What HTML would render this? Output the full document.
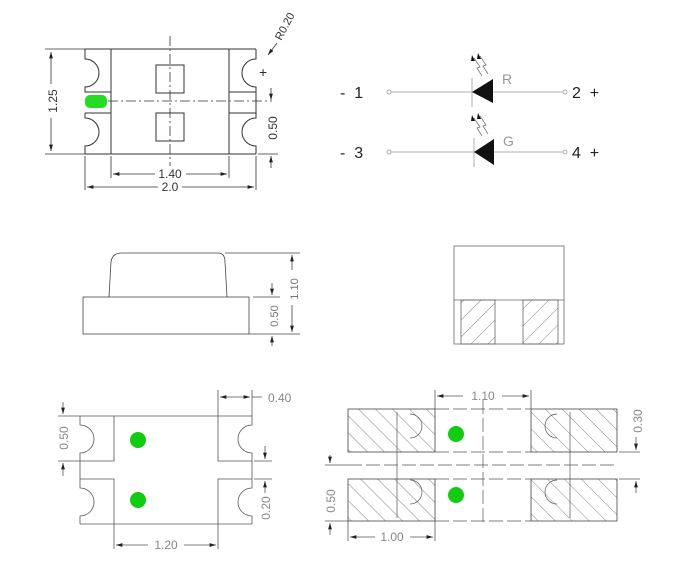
<!DOCTYPE html>
<html><head><meta charset="utf-8"><style>
html,body{margin:0;padding:0;background:#fff;}
svg{display:block;}
text{font-family:"Liberation Sans",sans-serif;}
</style></head><body>
<svg width="688" height="576" viewBox="0 0 688 576" xmlns="http://www.w3.org/2000/svg">
<defs>
<pattern id="h1" patternUnits="userSpaceOnUse" width="12" height="12" patternTransform="rotate(45)">
<line x1="0" y1="0" x2="0" y2="12" stroke="#666" stroke-width="0.8"/></pattern>
<pattern id="h2" patternUnits="userSpaceOnUse" width="12" height="12" patternTransform="rotate(-45)">
<line x1="0" y1="0" x2="0" y2="12" stroke="#666" stroke-width="0.8"/></pattern>
<marker id="a" viewBox="0 0 10 6" refX="10" refY="3" markerWidth="8" markerHeight="5" orient="auto-start-reverse"><path d="M0,0L10,3L0,6z" fill="#222"/></marker>
</defs>

<!-- TOP LEFT -->
<g fill="none" stroke="#333" stroke-width="1">
<line x1="85" y1="49" x2="256" y2="49"/><line x1="85" y1="154" x2="256" y2="154"/>
<line x1="111" y1="49" x2="111" y2="154"/><line x1="229" y1="49" x2="229" y2="154"/>
<path d="M85,49 V59 A14,14 0 0 1 85,87 V92 H111 M85,113 H111 M85,113 V118 A14,14 0 0 1 85,146 V154"/>
<path d="M256,49 V59 A14,14 0 0 0 256,87 V92 H229 M229,113 H256 V118 A14,14 0 0 0 256,146 V154"/>
<line x1="256" y1="92" x2="256" y2="113"/>
<rect x="156" y="65" width="28" height="28"/><rect x="156" y="113" width="28" height="28"/>
</g>
<g stroke="#333" stroke-width="0.8" stroke-dasharray="10,3,2,3" fill="none">
<line x1="170" y1="36" x2="170" y2="166"/><line x1="90" y1="101" x2="272" y2="101"/>
</g>
<rect x="85" y="95" width="22" height="13" rx="5" fill="#22dd22"/>
<g stroke="#333" stroke-width="0.8" fill="none">
<line x1="45" y1="49" x2="85" y2="49"/><line x1="45" y1="154" x2="85" y2="154"/>
<line x1="51" y1="52" x2="51" y2="84" marker-start="url(#a)"/><line x1="51" y1="118" x2="51" y2="151" marker-end="url(#a)"/>
<line x1="111" y1="156" x2="111" y2="178"/><line x1="229" y1="156" x2="229" y2="178"/>
<line x1="113" y1="174" x2="155" y2="174" marker-start="url(#a)"/><line x1="186" y1="174" x2="227" y2="174" marker-end="url(#a)"/>
<line x1="85" y1="156" x2="85" y2="190"/><line x1="256" y1="156" x2="256" y2="190"/>
<line x1="87" y1="187" x2="158" y2="187" marker-start="url(#a)"/><line x1="182" y1="187" x2="254" y2="187" marker-end="url(#a)"/>
<line x1="258" y1="154" x2="278" y2="154"/>
<line x1="271" y1="88" x2="271" y2="100" marker-end="url(#a)"/><line x1="271" y1="168" x2="271" y2="156" marker-end="url(#a)"/>
<line x1="277" y1="43" x2="268" y2="55" marker-end="url(#a)"/>
</g>
<g fill="#333" font-size="12">
<text x="57" y="101" transform="rotate(-90 57 101)" text-anchor="middle">1.25</text>
<text x="170" y="178" text-anchor="middle">1.40</text>
<text x="170" y="191" text-anchor="middle">2.0</text>
<text x="277" y="128" transform="rotate(-90 277 128)" text-anchor="middle">0.50</text>
<text x="288" y="28" font-size="11" transform="rotate(-62 288 28)" text-anchor="middle">R0.20</text>
<text x="259" y="77" font-size="14">+</text>
</g>

<!-- SCHEMATIC -->
<g stroke="#999" stroke-width="0.8" fill="#fff">
<line x1="391" y1="92" x2="563" y2="92"/><line x1="391" y1="152" x2="563" y2="152"/>
<circle cx="389" cy="92" r="2"/><circle cx="565" cy="92" r="2"/>
<circle cx="389" cy="152" r="2"/><circle cx="565" cy="152" r="2"/>
<line x1="472" y1="78" x2="472" y2="107"/><line x1="474" y1="138" x2="474" y2="167"/>
</g>
<path d="M472,92 L493,79 L493,103z" fill="#111"/>
<path d="M474,152 L494,139 L494,165z" fill="#111"/>
<g stroke="#777" stroke-width="0.8" fill="none">
<path d="M488,74 L483,66 L486,65 L480,56"/><path d="M482,76 L477,68 L480,67 L474,58"/>
<path d="M488,134 L483,126 L486,125 L480,116"/><path d="M482,136 L477,128 L480,127 L474,118"/>
</g>
<g fill="#111"><path d="M478,53 l3,6 l-4,0z"/><path d="M472,55 l3,6 l-4,0z"/><path d="M478,113 l3,6 l-4,0z"/><path d="M472,115 l3,6 l-4,0z"/></g>
<g font-size="16" fill="#222">
<text x="340" y="98">-&#160;&#160;1</text><text x="340" y="158">-&#160;&#160;3</text>
<text x="572" y="98">2&#160;&#160;+</text><text x="572" y="158">4&#160;&#160;+</text>
</g>
<g font-size="14" fill="#999"><text x="502" y="84">R</text><text x="503" y="146">G</text></g>

<!-- SIDE VIEW -->
<g fill="none" stroke="#444" stroke-width="0.8">
<rect x="83" y="297" width="166" height="37"/>
<path d="M109,297 L111,262 Q112,253 122,253 L218,253 Q225,253 225,262 L227,297"/>
<line x1="225" y1="253" x2="300" y2="253"/><line x1="249" y1="334" x2="300" y2="334"/>
<line x1="253" y1="297" x2="280" y2="297"/>
<line x1="292" y1="270" x2="292" y2="255" marker-end="url(#a)"/><line x1="292" y1="305" x2="292" y2="332" marker-end="url(#a)"/>
<line x1="272" y1="283" x2="272" y2="295" marker-end="url(#a)"/><line x1="272" y1="346" x2="272" y2="336" marker-end="url(#a)"/>
</g>
<g fill="#777" font-size="11">
<text x="298" y="289" transform="rotate(-90 298 289)" text-anchor="middle">1.10</text>
<text x="278" y="316" transform="rotate(-90 278 316)" text-anchor="middle">0.50</text>
</g>

<!-- END VIEW -->
<g fill="none" stroke="#666" stroke-width="0.8">
<rect x="454" y="246" width="110" height="98"/><line x1="454" y1="300" x2="564" y2="300"/>
<rect x="461" y="300" width="34" height="44" fill="url(#h1)"/>
<rect x="523" y="300" width="35" height="44" fill="url(#h1)"/>
</g>

<!-- BOTTOM LEFT -->
<g fill="none" stroke="#555" stroke-width="0.8">
<line x1="80" y1="416" x2="252" y2="416"/><line x1="80" y1="524" x2="252" y2="524"/>
<path d="M80,416 V425 A14,14 0 0 1 80,453 V461 H114 V416 M80,461 V479 H114 V524 M80,479 V488 A14,14 0 0 1 80,516 V524"/>
<path d="M252,416 V425 A14,14 0 0 0 252,453 V461 H218 V416 M252,461 V479 H218 V524 M252,479 V488 A14,14 0 0 0 252,516 V524"/>
<line x1="218" y1="390" x2="218" y2="416"/><line x1="252" y1="390" x2="252" y2="416"/>
<line x1="220" y1="397" x2="250" y2="397" marker-start="url(#a)" marker-end="url(#a)"/><line x1="252" y1="397" x2="262" y2="397"/>
<line x1="58" y1="416" x2="80" y2="416"/><line x1="58" y1="461" x2="80" y2="461"/>
<line x1="63" y1="402" x2="63" y2="414" marker-end="url(#a)"/><line x1="63" y1="476" x2="63" y2="463" marker-end="url(#a)"/>
<line x1="254" y1="461" x2="272" y2="461"/><line x1="254" y1="479" x2="272" y2="479"/>
<line x1="265" y1="446" x2="265" y2="459" marker-end="url(#a)"/><line x1="265" y1="493" x2="265" y2="481" marker-end="url(#a)"/>
<line x1="114" y1="524" x2="114" y2="549"/><line x1="218" y1="524" x2="218" y2="549"/>
<line x1="116" y1="545" x2="148" y2="545" marker-start="url(#a)"/><line x1="184" y1="545" x2="216" y2="545" marker-end="url(#a)"/>
</g>
<circle cx="138" cy="440" r="8" fill="#11cc11"/><circle cx="138" cy="500" r="8" fill="#11cc11"/>
<g fill="#888" font-size="12">
<text x="268" y="402">0.40</text>
<text x="68" y="438" transform="rotate(-90 68 438)" text-anchor="middle">0.50</text>
<text x="270" y="508" transform="rotate(-90 270 508)" text-anchor="middle">0.20</text>
<text x="166" y="549" text-anchor="middle">1.20</text>
</g>

<!-- BOTTOM RIGHT -->
<g stroke="#444" stroke-width="0.8">
<rect x="348" y="409" width="87" height="43" fill="url(#h2)"/>
<rect x="348" y="479" width="87" height="42" fill="url(#h2)"/>
<rect x="531" y="409" width="86" height="43" fill="url(#h2)"/>
<rect x="531" y="479" width="86" height="42" fill="url(#h2)"/>
</g>
<g fill="none" stroke="#555" stroke-width="0.7">
<path d="M397,452 V479 M570,452 V479"/>
<path d="M397,412 V452 M397,479 V518 M570,412 V452 M570,479 V518"/>
<path d="M410,438 A12,12 0 0 0 410,414 M410,504 A12,12 0 0 0 410,480 M557,438 A12,12 0 0 1 557,414 M557,504 A12,12 0 0 1 557,480"/>
</g>
<g fill="none" stroke="#555" stroke-width="0.7" stroke-dasharray="14,4">
<line x1="348" y1="465" x2="617" y2="465"/>
<line x1="435" y1="409" x2="531" y2="409"/><line x1="435" y1="452" x2="531" y2="452"/>
<line x1="435" y1="479" x2="531" y2="479"/><line x1="435" y1="521" x2="531" y2="521"/>
<line x1="483" y1="400" x2="483" y2="525"/>
</g>
<circle cx="456" cy="434" r="8" fill="#11cc11"/><circle cx="456" cy="495" r="8" fill="#11cc11"/>
<g fill="none" stroke="#555" stroke-width="0.8">
<line x1="435" y1="390" x2="435" y2="409"/><line x1="531" y1="390" x2="531" y2="409"/>
<line x1="437" y1="396" x2="463" y2="396" marker-start="url(#a)"/><line x1="502" y1="396" x2="529" y2="396" marker-end="url(#a)"/>
<line x1="619" y1="452" x2="640" y2="452"/><line x1="619" y1="479" x2="640" y2="479"/>
<line x1="636" y1="437" x2="636" y2="450" marker-end="url(#a)"/><line x1="636" y1="493" x2="636" y2="481" marker-end="url(#a)"/>
<line x1="325" y1="465" x2="348" y2="465"/><line x1="325" y1="521" x2="348" y2="521"/>
<line x1="330" y1="455" x2="330" y2="463" marker-end="url(#a)"/><line x1="330" y1="535" x2="330" y2="523" marker-end="url(#a)"/>
<line x1="348" y1="521" x2="348" y2="541"/><line x1="435" y1="521" x2="435" y2="541"/>
<line x1="350" y1="537" x2="375" y2="537" marker-start="url(#a)"/><line x1="410" y1="537" x2="433" y2="537" marker-end="url(#a)"/>
</g>
<g fill="#888" font-size="12">
<text x="483" y="400" text-anchor="middle">1.10</text>
<text x="642" y="421" transform="rotate(-90 642 421)" text-anchor="middle">0.30</text>
<text x="335" y="501" transform="rotate(-90 335 501)" text-anchor="middle">0.50</text>
<text x="392" y="541" text-anchor="middle">1.00</text>
</g>
</svg>
</body></html>
